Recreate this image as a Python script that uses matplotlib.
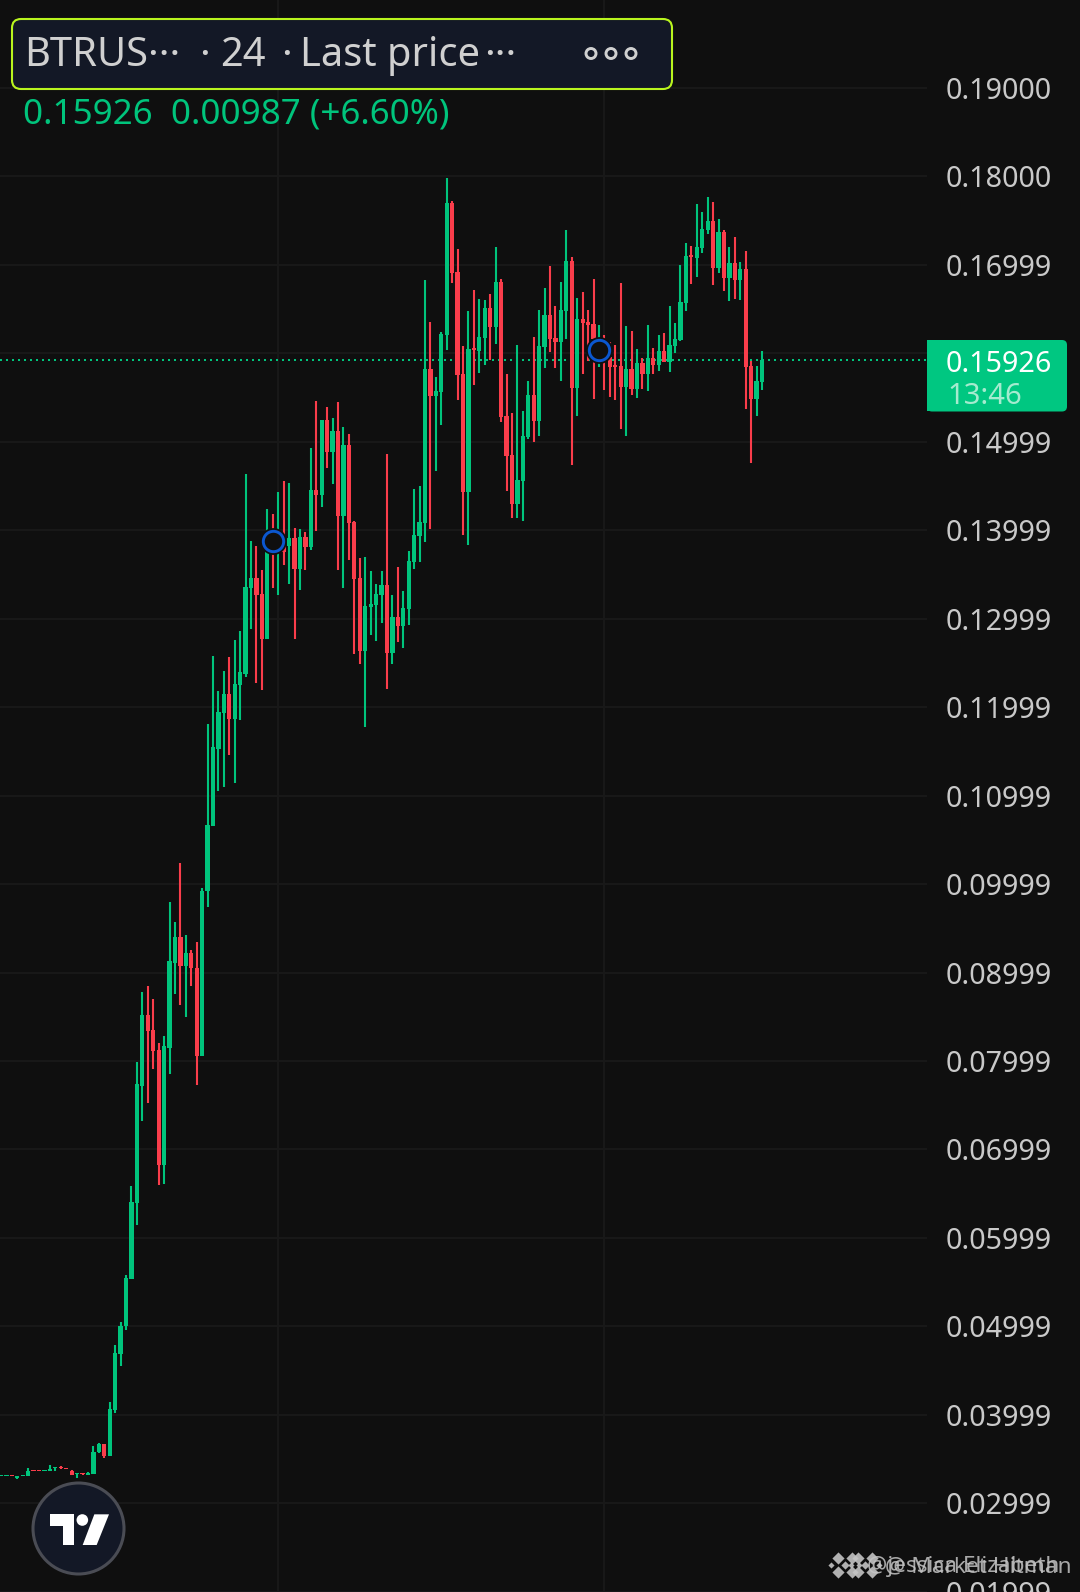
import numpy as np
import matplotlib
matplotlib.use("Agg")
import matplotlib.pyplot as plt
from matplotlib.patches import FancyBboxPatch, Circle, Polygon

# prices in thousandths, one entry per candle
opens = [33.02,33.02,33.20,32.87,33.02,33.02,33.77,33.77,33.58,33.58,33.92,34.11,34.00,33.66,33.24,33.43,33.13,33.32,35.74,36.64,35.36,40.57,46.91,49.97,55.30,63.90,
77.21,85.22,83.45,81.28,68.25,81.50,91.11,93.97,90.68,92.24,90.55,80.59,99.16,106.53,115.31,119.30,121.46,118.61,122.46,123.78,133.50,134.64,132.83,127.74,
139.2,137.5,139.0,138.25,139.16,135.65,139.27,138.14,144.58,144.02,152.50,148.88,151.26,141.64,149.67,140.97,134.64,126.38,131.35,131.58,132.71,133.84,126.15,130.23,129.21,
131.13,136.44,139.38,140.86,158.27,155.22,155.67,162.12,177.04,169.24,157.71,144.36,160.65,160.31,161.78,165.17,163.02,168.11,152.96,148.55,143.01,145.61,150.58,155.33,152.39,
160.76,164.38,161.78,161.32,164.83,170.48,156.12,163.92,163.59,163.36,159.8,161.11,159.6,158.66,158.55,156.17,158.21,155.95,158.89,157.64,159.45,158.66,160.24,159.0,160.81,
161.49,165.67,171.1,170.76,171.89,173.93,174.94,169.63,173.70,168.5,170.2,168.27,169.52,158.55,154.82,156.74]
highs = [33.20,33.20,33.20,33.05,33.20,33.96,33.77,33.77,33.77,34.34,34.11,34.23,34.00,33.77,33.43,33.43,33.54,36.49,36.83,36.72,41.47,47.82,50.42,55.75,65.83,79.88,
87.73,88.51,87.04,81.97,82.84,97.91,95.74,102.32,94.27,92.50,93.49,99.60,118.04,125.75,121.77,124.06,125.62,127.62,128.56,146.39,138.82,138.25,135.54,142.44,
141.87,144.36,145.6,145.38,140.29,140.18,139.84,149.33,154.65,152.50,153.97,152.73,154.54,151.71,150.92,141.08,136.90,137.01,135.43,133.96,135.43,148.66,132.71,135.88,133.17,
137.69,144.70,145.04,168.33,163.59,157.37,162.46,179.87,177.27,171.84,160.87,164.83,167.20,166.19,166.07,166.75,172.07,168.45,157.71,153.30,160.98,153.52,156.91,161.89,164.94,
167.43,169.92,165.39,168.11,173.99,170.94,166.30,166.98,164.94,168.45,163.18,162.05,161.3,160.92,167.93,163.07,162.51,160.47,159.45,163.18,160.58,162.05,162.28,165.33,163.41,
169.97,172.46,172.12,176.87,175.96,177.66,177.09,175.17,173.93,172.0,173.13,170.31,171.55,159.11,158.58,160.24]
lows = [33.02,33.02,33.02,32.75,33.02,33.02,33.58,33.58,33.58,33.58,33.58,33.81,33.81,33.13,32.86,33.13,33.13,33.32,35.62,35.13,35.36,40.23,45.55,49.52,55.30,61.41,
73.23,75.26,79.03,65.99,66.12,78.47,87.52,86.35,84.92,88.51,77.30,80.59,97.35,106.53,110.46,110.94,114.53,111.37,118.52,123.44,128.87,122.76,121.97,127.74,
133.50,132.71,136.1,133.96,127.74,133.28,135.54,137.80,139.95,142.66,147.07,145.26,135.54,133.50,136.67,126.04,124.91,117.79,128.19,127.51,129.55,122.08,124.91,127.40,126.72,
129.32,135.65,136.44,138.71,140.18,146.74,151.94,160.42,168.0,154.77,139.50,138.37,156.46,157.82,158.72,159.29,161.10,152.28,144.48,141.42,141.42,141.08,150.36,150.02,150.70,
158.38,160.19,158.38,156.91,161.66,147.42,152.96,157.71,159.17,154.88,158.47,155.83,155.04,154.70,151.42,150.63,155.27,154.93,155.95,155.72,157.64,157.98,159.0,157.87,160.02,
161.38,164.77,167.82,168.61,171.33,173.47,167.71,169.06,167.03,165.9,166.12,166.01,153.69,147.58,152.9,155.84]
closes = [33.20,33.20,33.02,33.05,33.20,33.66,33.58,33.58,33.77,33.89,34.11,33.92,33.81,33.13,33.43,33.24,33.43,35.81,36.64,35.36,40.68,47.02,50.08,55.41,64.02,77.38,
85.22,83.32,81.15,68.25,81.63,91.24,93.97,90.68,92.24,90.46,80.59,99.25,106.61,115.44,119.43,121.46,118.61,122.59,123.93,133.62,134.64,132.71,127.74,137.69,
137.31,139.2,137.5,139.16,135.65,139.27,138.14,144.58,144.02,152.50,148.88,151.26,141.64,149.67,140.85,134.52,126.38,131.47,131.70,132.83,133.84,126.15,130.23,129.21,131.24,
136.56,139.50,140.97,158.27,155.22,155.78,162.23,177.04,169.13,157.59,144.36,160.53,160.42,161.89,165.17,163.02,168.11,152.84,148.43,143.01,145.72,150.70,155.33,152.39,160.87,
164.38,161.66,161.32,164.94,170.48,156.12,163.92,163.47,163.25,161.63,161.5,159.23,158.44,158.44,156.17,158.21,155.95,158.89,157.64,159.45,158.66,160.24,159.0,160.92,161.6,
165.79,170.99,170.87,172.0,174.04,174.94,169.63,173.70,168.5,170.2,168.27,169.52,158.44,154.82,156.85,159.26]

tick_values = [19.999,29.99,39.99,49.99,59.99,69.99,79.99,89.99,99.99,109.99,119.99,129.99,139.99,149.99,159.99,169.99,180.00,190.00]
tick_labels = ["0.01999","0.02999","0.03999","0.04999","0.05999","0.06999","0.07999","0.08999","0.09999",
               "0.10999","0.11999","0.12999","0.13999","0.14999","","0.16999","0.18000","0.19000"]
time_ticks = [51, 111]
marker_idx = [50, 110]
marker_price = [138.8, 160.36]
last_price = 159.26

BG = "#0F0F0F"; GRID = "#181818"; GREEN = "#00C47C"; RED = "#FA3D4B"; TXT = "#C9C9C9"
plt.rcParams["font.family"] = ["Noto Sans", "DejaVu Sans"]

W, H = 1080, 1592
fig = plt.figure(figsize=(W/100, H/100), dpi=100, facecolor=BG)
ax = fig.add_axes([0, 0, 927/W, 1], facecolor=BG)
ax.set_xlim(-0.184, 170.35)
ax.set_ylim(19.95, 199.94)
for s in ax.spines.values():
    s.set_visible(False)
ax.yaxis.tick_right()
ax.set_yticks(tick_values)
ax.set_yticklabels(tick_labels, fontsize=20.7, color=TXT)
ax.set_xticks(time_ticks)
ax.set_xticklabels([])
ax.tick_params(length=0, pad=13.5)
ax.grid(True, color=GRID, lw=1.5, zorder=0)
ax.set_axisbelow(True)

o, h, l, c = map(np.array, (opens, highs, lows, closes))
x = np.arange(len(o))
cols = np.where(c >= o, GREEN, RED)
ax.axhline(last_price, color=GREEN, lw=1.44, ls=(0, (1, 2)), zorder=1)
ax.vlines(x, l, h, colors=cols, lw=1.5, zorder=2)
ax.bar(x, np.abs(c - o), bottom=np.minimum(o, c), width=0.78, color=cols, lw=0, zorder=3)
ax.scatter(marker_idx, marker_price, s=300, facecolor=BG, edgecolor="#0F0F0F", lw=2, zorder=4)
ax.scatter(marker_idx, marker_price, s=215, facecolor=BG, edgecolor="#0B57D0", lw=2.1, zorder=5)

# overlay in pixel coordinates for the app's chrome
ov = fig.add_axes([0, 0, 1, 1], facecolor="none")
ov.set_xlim(0, W); ov.set_ylim(H, 0); ov.axis("off")

ov.add_patch(FancyBboxPatch((12+9, 19+9), 660-18, 70-18, boxstyle="round,pad=9,rounding_size=9",
                            fc="#131826", ec="#B9F51E", lw=1.5))
hdr = "#D0D0D0"
for tx, seg in ((24.5, "BTRUS\u00b7\u00b7\u00b7"), (199, "\u00b7"), (220, "24"), (281, "\u00b7"), (300, "Last price"), (484, "\u00b7\u00b7\u00b7")):
    ov.text(tx, 66, seg, fontsize=28.7, color=hdr, va="baseline", ha="left")
for cx in (591, 611, 631):
    ov.add_patch(Circle((cx, 53.5), 5, fc="none", ec=hdr, lw=2.1))
ov.text(23, 114.5, "0.15926  0.00987 (+6.60%)", fontsize=25.2, color=GREEN, va="center", ha="left")

# price tag
ov.add_patch(FancyBboxPatch((927, 340), 140, 71.5, boxstyle="round,pad=0,rounding_size=5", fc="#00C781", ec="none"))
ov.add_patch(plt.Rectangle((927, 340), 20, 71, fc="#00C781", ec="none"))
ov.text(946, 365, "0.15926", fontsize=20.7, color="white", va="center", ha="left")
ov.text(947, 396, "13:46", fontsize=21, color="#A5EBCF", va="center", ha="left")

# TradingView badge
ov.add_patch(Circle((78.5, 1528.5), 45.5, fc="#131826", ec="#4A4C54", lw=2.2))
tv = lambda pts: [(px/3, 1440 + py/3) for px, py in pts]
ov.add_patch(Polygon(tv([(150,223),(222,223),(222,315),(190,315),(190,257),(150,257)]), fc="white", ec="none"))
ov.add_patch(Polygon(tv([(283,223),(327,223),(290,315),(248,315)]), fc="white", ec="none"))
ov.add_patch(Circle((247/3, 1440+240/3), 5.8, fc="white", ec="none"))

# watermarks
wm = "#C4C4C4"
for ox in (0, 20):
    cx0, cy0 = 845 + ox, 1565
    for dx, dy, s in ((-9, -9, 48), (9, -9, 48), (-9, 9, 48), (9, 9, 48), (0, 0, 22), (-18, 0, 12), (18, 0, 12)):
        ov.scatter(cx0 + dx*0.8, cy0 + dy*0.8, marker="D", s=s*0.8, c=wm, lw=0, alpha=0.9)
ov.text(867, 1572, "@jessica Elizabeth", fontsize=16.3, color=wm, alpha=0.85, va="baseline", ha="left")
ov.text(885, 1572, "@ Market Hitman", fontsize=16.3, color=wm, alpha=0.85, va="baseline", ha="left")

fig.savefig("out.png", dpi=100, facecolor=BG)
